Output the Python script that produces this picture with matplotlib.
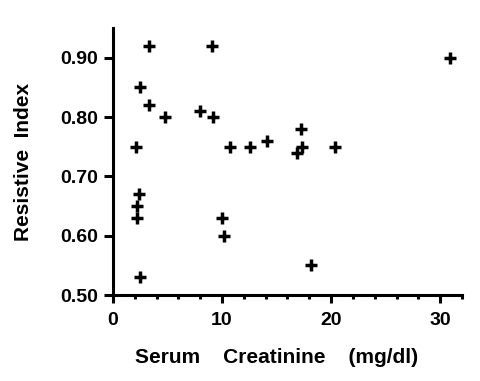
import matplotlib
matplotlib.use("Agg")
import matplotlib.pyplot as plt
from matplotlib.ticker import MultipleLocator

# Serum creatinine (mg/dl) vs resistive index
creatinine = [3.3, 9.1, 30.9, 2.5, 3.3, 8.0, 4.8, 9.2, 17.2,
              14.1, 2.1, 10.7, 12.6, 17.3, 20.4, 16.9,
              2.4, 2.2, 2.2, 10.0, 10.2, 18.2, 2.5]
resistive_index = [0.92, 0.92, 0.90, 0.85, 0.82, 0.81, 0.80, 0.80, 0.78,
                   0.76, 0.75, 0.75, 0.75, 0.75, 0.75, 0.74,
                   0.67, 0.65, 0.63, 0.63, 0.60, 0.55, 0.53]

X_TICKS = [0, 10, 20, 30]
Y_TICKS = [0.50, 0.60, 0.70, 0.80, 0.90]

plt.rcParams["font.family"] = ["Liberation Sans", "DejaVu Sans"]
plt.rcParams["font.weight"] = "bold"

fig = plt.figure(figsize=(4.81, 3.81), dpi=100, facecolor="white")
ax = fig.add_axes([0.2349, 0.2257, 0.7256, 0.7008])

ax.plot(creatinine, resistive_index, linestyle="none", marker="+",
        markersize=9, markeredgewidth=2.5, color="black", clip_on=False)

ax.set_xlim(0, 32)
ax.set_ylim(0.50, 0.95)
ax.set_xticks(X_TICKS)
ax.set_xticklabels([str(t) for t in X_TICKS])
ax.xaxis.set_minor_locator(MultipleLocator(2))
ax.set_yticks(Y_TICKS)
ax.set_yticklabels([f"{t:.2f}" for t in Y_TICKS])

for side in ["top", "right"]:
    ax.spines[side].set_visible(False)
for side in ["left", "bottom"]:
    ax.spines[side].set_linewidth(2.2)

ax.tick_params(axis="x", which="major", direction="out", length=6, width=2.2,
               labelsize=14, pad=6)
ax.tick_params(axis="x", which="minor", direction="out", length=3, width=2.2)
ax.tick_params(axis="y", which="major", direction="out", length=6.5, width=2.2,
               labelsize=14, pad=4)

ax.set_xlabel("Serum    Creatinine    (mg/dl)", fontsize=15, fontweight="bold")
ax.xaxis.set_label_coords(0.468, -0.20)
ax.set_ylabel("Resistive  Index", fontsize=15, fontweight="bold", labelpad=20)

fig.savefig("out.png", dpi=100, facecolor="white")
